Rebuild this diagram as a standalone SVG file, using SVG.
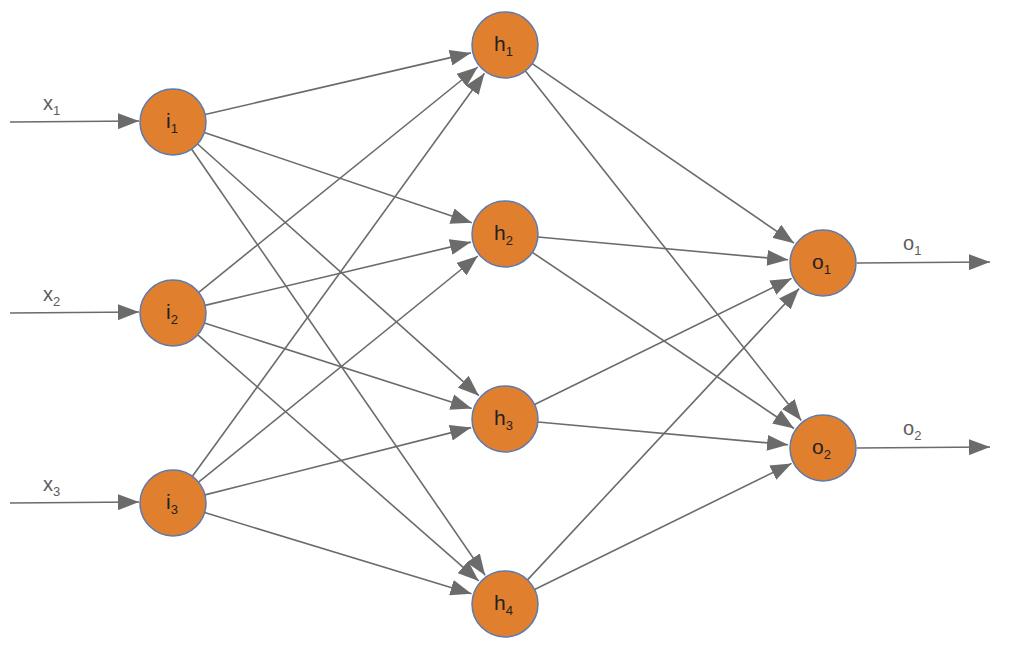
<svg xmlns="http://www.w3.org/2000/svg" width="1014" height="656" viewBox="0 0 1014 656">
<style>
.e{stroke:#6b6b6b;stroke-width:1.6;fill:none;marker-end:url(#a)}
.n{fill:#e07f2e;stroke:#5a7ab0;stroke-width:1.5}
.t{font-family:"Liberation Sans",Arial,sans-serif;font-size:21px;fill:#222}
.l{font-family:"Liberation Sans",Arial,sans-serif;font-size:20px;fill:#5c5c5c}
.s{font-size:13px}
</style>
<defs><marker id="a" markerUnits="userSpaceOnUse" markerWidth="22" markerHeight="16" refX="21" refY="8" orient="auto"><path d="M0,0 L21,8 L0,16 z" fill="#6b6b6b"/></marker></defs>
<rect width="1014" height="656" fill="#fff"/>
<g id="connectors">
<line class="e" x1="10" y1="122" x2="139" y2="121"/>
<line class="e" x1="10" y1="313" x2="139" y2="312"/>
<line class="e" x1="10" y1="503" x2="139" y2="502"/>
<line class="e" x1="857" y1="263" x2="990" y2="262"/>
<line class="e" x1="857" y1="448" x2="990" y2="447"/>
<line class="e" x1="205.1" y1="114.5" x2="470.9" y2="52.9"/>
<line class="e" x1="204.3" y1="132.5" x2="471.8" y2="222.8"/>
<line class="e" x1="197.6" y1="144" x2="478.9" y2="395.7"/>
<line class="e" x1="191.7" y1="149.2" x2="485.1" y2="575.2"/>
<line class="e" x1="198.7" y1="292.3" x2="477.8" y2="67"/>
<line class="e" x1="205.1" y1="305.4" x2="471" y2="242.1"/>
<line class="e" x1="204.4" y1="323" x2="471.7" y2="408.4"/>
<line class="e" x1="197.8" y1="334.8" x2="478.7" y2="580.9"/>
<line class="e" x1="192.4" y1="476.3" x2="484.5" y2="73.3"/>
<line class="e" x1="198.6" y1="482.2" x2="477.8" y2="256"/>
<line class="e" x1="205" y1="494.9" x2="471.1" y2="427.6"/>
<line class="e" x1="204.6" y1="512.6" x2="471.5" y2="593.8"/>
<line class="e" x1="532.2" y1="63.7" x2="794.1" y2="243.2"/>
<line class="e" x1="525.4" y1="70.9" x2="801.3" y2="420.5"/>
<line class="e" x1="537.9" y1="237" x2="788.1" y2="259.8"/>
<line class="e" x1="532.4" y1="252.4" x2="794" y2="428.5"/>
<line class="e" x1="534.6" y1="404.5" x2="791.6" y2="278.4"/>
<line class="e" x1="537.9" y1="422" x2="788.1" y2="444.8"/>
<line class="e" x1="527.5" y1="579.9" x2="799.1" y2="288.6"/>
<line class="e" x1="534.6" y1="589.5" x2="791.6" y2="463.4"/>
</g>
<g id="labels">
<text class="l" x="43" y="110">x<tspan class="s" dy="5">1</tspan></text>
<text class="l" x="43" y="301">x<tspan class="s" dy="5">2</tspan></text>
<text class="l" x="43" y="491">x<tspan class="s" dy="5">3</tspan></text>
<text class="l" x="903" y="250">o<tspan class="s" dy="5">1</tspan></text>
<text class="l" x="903" y="435">o<tspan class="s" dy="5">2</tspan></text>
</g>
<g id="i1"><circle class="n" cx="173" cy="122" r="33"/><text class="t" x="166" y="128">i<tspan class="s" dy="5">1</tspan></text></g>
<g id="i2"><circle class="n" cx="173" cy="313" r="33"/><text class="t" x="166" y="319">i<tspan class="s" dy="5">2</tspan></text></g>
<g id="i3"><circle class="n" cx="173" cy="503" r="33"/><text class="t" x="166" y="509">i<tspan class="s" dy="5">3</tspan></text></g>
<g id="h1"><circle class="n" cx="505" cy="45" r="33"/><text class="t" x="494" y="51">h<tspan class="s" dy="5">1</tspan></text></g>
<g id="h2"><circle class="n" cx="505" cy="234" r="33"/><text class="t" x="494" y="240">h<tspan class="s" dy="5">2</tspan></text></g>
<g id="h3"><circle class="n" cx="505" cy="419" r="33"/><text class="t" x="494" y="425">h<tspan class="s" dy="5">3</tspan></text></g>
<g id="h4"><circle class="n" cx="505" cy="604" r="33"/><text class="t" x="494" y="610">h<tspan class="s" dy="5">4</tspan></text></g>
<g id="o1"><circle class="n" cx="823" cy="263" r="33"/><text class="t" x="812" y="269">o<tspan class="s" dy="5">1</tspan></text></g>
<g id="o2"><circle class="n" cx="823" cy="448" r="33"/><text class="t" x="812" y="454">o<tspan class="s" dy="5">2</tspan></text></g>
</svg>
